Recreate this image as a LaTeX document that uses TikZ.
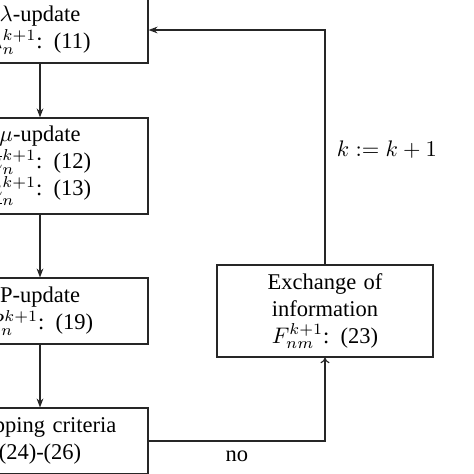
\documentclass[tikz,border=0pt]{standalone}
\usepackage{fontspec}
\setmainfont{Liberation Serif}
\usetikzlibrary{arrows.meta}
\begin{document}
\begin{tikzpicture}[x=0.4444pt,y=-0.4444pt,
  box/.style={draw=black!85, line width=0.5pt, align=center, inner sep=0pt,
    minimum width=96pt, text width=90pt},
  arr/.style={draw=black!85, line width=0.5pt, -{Stealth[length=4pt,width=3pt]}},
  thinarr/.style={draw=black!85, line width=0.5pt, -{To[length=2.5pt,width=4pt]}}]
\clip (0,0) rectangle (474,474);
\useasboundingbox (0,0) rectangle (474,474);
\node[box, minimum height=29.3pt] (b1) at (40,30) {$\lambda$-update\\$\lambda_n^{k+1}$: (11)};
\node[box, minimum height=42.7pt] (b2) at (40,166) {$\mu$-update\\$\overline{\mu}_n^{k+1}$: (12)\\$\underline{\mu}_n^{k+1}$: (13)};
\node[box, minimum height=29.3pt] (b3) at (40,311) {P-update\\$P_n^{k+1}$: (19)};
\node[box, minimum height=29.3pt] (b4) at (40,441) {Stopping criteria\\(24)-(26)};
\node[box, minimum height=40.9pt] (ex) at (325,311) {Exchange of\\information\\$F_{nm}^{k+1}$: (23)};
\draw[arr] (b1) -- (b2);
\draw[arr] (b2) -- (b3);
\draw[arr] (b3) -- (b4);
\draw[thinarr] (b4.east) -| node[pos=0.25, below=1pt] (no) {no} (ex.south);
\draw[arr] (ex.north) |- (b1.east);
\node[anchor=west] (kk) at (329,150) {$k := k+1$};
\end{tikzpicture}
\end{document}
